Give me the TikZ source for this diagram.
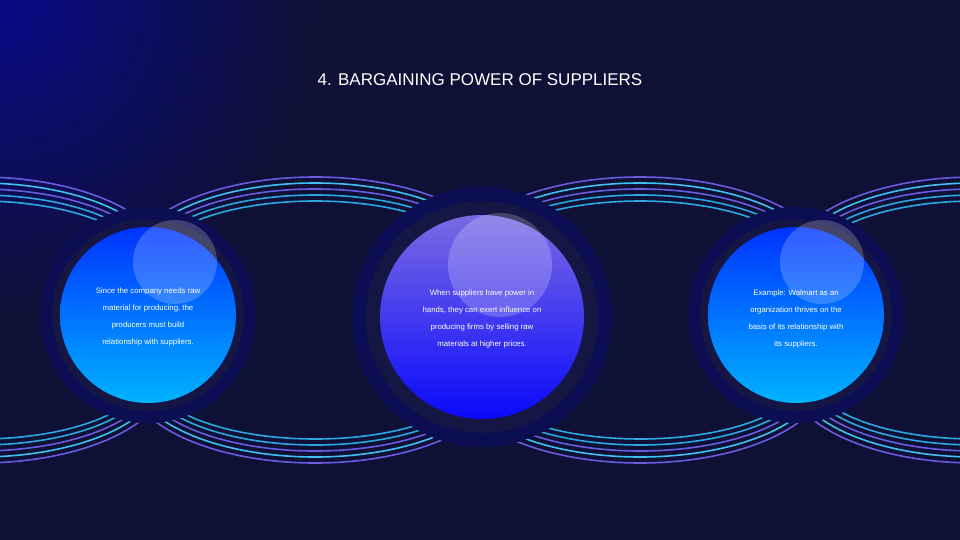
\documentclass[tikz,border=0pt]{standalone}
\usepackage{fontspec}
\setmainfont{Liberation Sans}
\begin{document}
\begin{tikzpicture}[x=1pt,y=-1pt,
  txt/.style={text=white,font=\fontsize{7.8}{17}\selectfont,align=center},
  arcA/.style={line width=1.6pt,color=#1},
  halo/.style={fill=#1}]
\definecolor{bg}{HTML}{0E1035}
\definecolor{teal}{HTML}{2AA8E0}
\definecolor{purp}{HTML}{6A5BE0}
\definecolor{cyan1}{HTML}{3FC0F0}
\useasboundingbox (0,0) rectangle (960,540);
\clip (0,0) rectangle (960,540);
\fill[bg] (0,0) rectangle (960,540);
\shade[inner color=blue!40!bg, outer color=bg] (0,0) circle (320);
% arcs
\foreach \a/\b/\c in {170/70/teal,176/76/purp,182/82/cyan1,188/88/purp,164/64/teal}{
  \foreach \x in {315,640}{
    \draw[arcA=\c] (\x,265) ++(5:\a pt and \b pt) arc (5:175:\a pt and \b pt);
    \draw[arcA=\c] (\x,375) ++(-5:\a pt and \b pt) arc (-5:-175:\a pt and \b pt);
  }
  \draw[arcA=\c] (-20,265) ++(5:\a pt and \b pt) arc (5:90:\a pt and \b pt);
  \draw[arcA=\c] (-20,375) ++(-5:\a pt and \b pt) arc (-5:-90:\a pt and \b pt);
  \draw[arcA=\c] (975,265) ++(175:\a pt and \b pt) arc (175:90:\a pt and \b pt);
  \draw[arcA=\c] (975,375) ++(-175:\a pt and \b pt) arc (-175:-90:\a pt and \b pt);
}
% halos and circles
\fill[halo=bg!85!blue] (148,315) coordinate(cl) circle (108);
\fill[halo=bg!85!blue] (482,317) coordinate(cm) circle (130);
\fill[halo=bg!85!blue] (796,315) coordinate(cr) circle (108);
\fill[halo=bg!92!purp] (cl) circle (96);
\fill[halo=bg!92!purp] (cm) circle (116);
\fill[halo=bg!92!purp] (cr) circle (96);
\shade[top color=blue!80!cyan, bottom color=cyan!70!blue] (cl) circle (88);
\shade[top color=purp!90!white, bottom color=blue!90!purp] (cm) circle (102);
\shade[top color=blue!80!cyan, bottom color=cyan!70!blue] (cr) circle (88);
\fill[white,opacity=0.2] (175,262) circle (42);
\fill[white,opacity=0.2] (500,265) circle (52);
\fill[white,opacity=0.2] (822,262) circle (42);
\node[text=white,font=\fontsize{17}{20}\selectfont] (t) at (480,80) {4. BARGAINING POWER OF SUPPLIERS};
\node[txt] (a) at (148,317) {Since the company needs raw\\material for producing, the\\producers must build\\relationship with suppliers.};
\node[txt] (b) at (482,319) {When suppliers have power in\\hands, they can exert influence on\\producing firms by selling raw\\materials at higher prices.};
\node[txt] (c) at (796,319) {Example: Walmart as an\\organization thrives on the\\basis of its relationship with\\its suppliers.};
\end{tikzpicture}
\end{document}
